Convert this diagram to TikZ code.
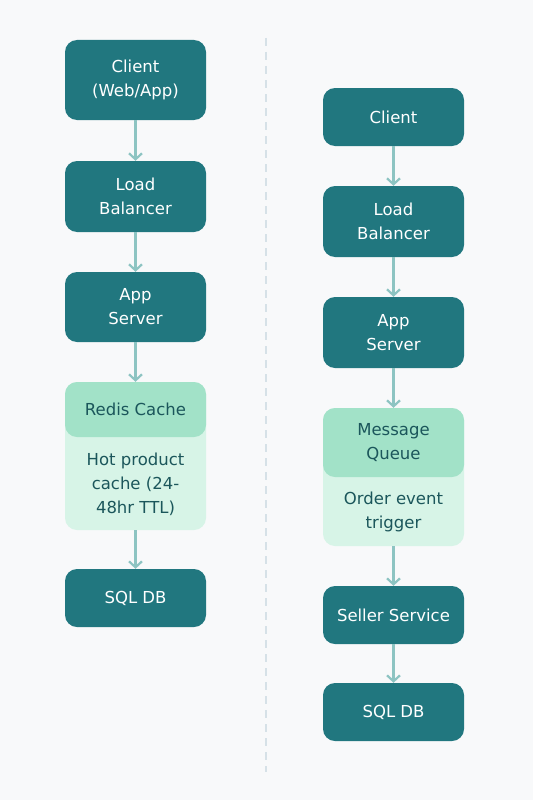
\documentclass[tikz,border=0pt]{standalone}
\usepackage{fontspec}
\setmainfont{DejaVu Sans}
\usetikzlibrary{arrows.meta}

\definecolor{pagebg}{HTML}{F8F9FA}
\definecolor{boxteal}{HTML}{21777F}
\definecolor{headgreen}{HTML}{A2E2C8}
\definecolor{bodygreen}{HTML}{D7F4E7}
\definecolor{darktext}{HTML}{1B565B}
\definecolor{arrowteal}{HTML}{8DC4C2}
\definecolor{splitline}{HTML}{D6E1E7}

\begin{document}
\begin{tikzpicture}[x=1pt,y=-1pt,
    txt/.style={align=center, font=\fontsize{16.5}{24}\selectfont},
    box/.style={txt, fill=boxteal, text=white, rounded corners=12pt, minimum width=141pt},
    cachebody/.style={fill=bodygreen, rounded corners=12pt, minimum width=141pt},
    cachehead/.style={txt, fill=headgreen, text=darktext, rounded corners=12pt, minimum width=141pt},
    cachetext/.style={txt, text=darktext},
    flow/.style={-{Straight Barb[length=6pt,width=13pt]}, draw=arrowteal, line width=2.2pt}]

    % Background
    \fill[pagebg] (0,0) rectangle (533,800);

    % Divider
    \coordinate (top) at (266,38);
    \coordinate (bot) at (266,772);
    \draw[splitline, line width=1.5pt, dash pattern=on 8pt off 6pt] (top) -- (bot);

    % Left column
    \node[box, minimum height=80pt] (lclient) at (135.5,80) {Client\\(Web/App)};
    \node[box, minimum height=71pt] (llb) at (135.5,196.5) {Load\\Balancer};
    \node[box, minimum height=70pt] (lapp) at (135.5,307) {App\\Server};
    \node[cachebody, minimum height=148pt] (lcache) at (135.5,456) {};
    \node[cachehead, minimum height=55pt] (lredis) at (135.5,409.5) {Redis Cache};
    \node[cachetext] (lhot) at (135.5,484) {Hot product\\cache (24-\\48hr TTL)};
    \node[box, minimum height=58pt] (lsql) at (135.5,598) {SQL DB};

    % Right column
    \node[box, minimum height=58pt] (rclient) at (393.5,117) {Client};
    \node[box, minimum height=71pt] (rlb) at (393.5,221.5) {Load\\Balancer};
    \node[box, minimum height=71pt] (rapp) at (393.5,332.5) {App\\Server};
    \node[cachebody, minimum height=138pt] (rqueue) at (393.5,477) {};
    \node[cachehead, minimum height=69pt] (rmsg) at (393.5,442.5) {Message\\Queue};
    \node[cachetext] (rorder) at (393.5,512) {Order event\\trigger};
    \node[box, minimum height=58pt] (rseller) at (393.5,615) {Seller Service};
    \node[box, minimum height=58pt] (rsql) at (393.5,712) {SQL DB};

    % Draw edges
    \draw[flow] (lclient) -- (llb);
    \draw[flow] (llb) -- (lapp);
    \draw[flow] (lapp) -- (lcache);
    \draw[flow] (lcache) -- (lsql);

    \draw[flow] (rclient) -- (rlb);
    \draw[flow] (rlb) -- (rapp);
    \draw[flow] (rapp) -- (rqueue);
    \draw[flow] (rqueue) -- (rseller);
    \draw[flow] (rseller) -- (rsql);

\end{tikzpicture}
\end{document}
